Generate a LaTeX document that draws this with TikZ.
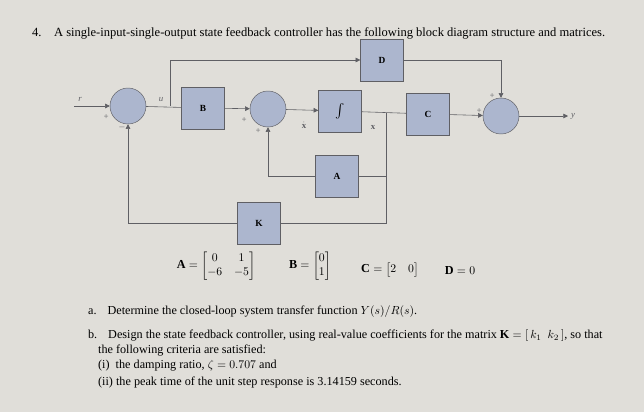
\documentclass[tikz,border=0pt]{standalone}
\usepackage{fontspec}
\usepackage{amsmath}
\setmainfont{Liberation Serif}
\usetikzlibrary{arrows.meta}
\definecolor{paper}{RGB}{224,222,217}
\definecolor{boxfill}{RGB}{172,182,206}
\definecolor{ln}{RGB}{95,95,100}
\begin{document}
\begin{tikzpicture}[x=0.03cm,y=-0.03cm,font=\fontsize{10.4}{12}\selectfont,
  blk/.style={draw=ln,fill=boxfill,minimum width=1.29cm,minimum height=1.26cm,inner sep=0pt,font=\fontsize{8}{9}\bfseries},
  sumc/.style={draw=ln,fill=boxfill,circle,minimum size=1.08cm,inner sep=0pt},
  wire/.style={draw=ln,line width=0.5pt},
  arr/.style={wire,-{Triangle[length=4pt,width=4pt]}},
  lab/.style={font=\fontsize{7.5}{8}\selectfont\itshape,text=ln}]
\fill[paper] (0,0) rectangle (644,412);
\node[anchor=west,font=\fontsize{10.7}{12}\selectfont] (title) at (28,33) {4.\hspace{1.0em}A single-input-single-output state feedback controller has the following block diagram structure and matrices.};
\node[sumc] (s1) at (128,106) {};
\node[blk] (B) at (203,108) {B};
\node[sumc] (s2) at (268,109) {};
\node[blk] (I) at (340,111) {\large$\int$};
\node[blk] (C) at (428,114) {C};
\node[sumc] (s3) at (501,116) {};
\node[blk] (D) at (382,60) {D};
\node[blk] (A) at (337,176) {A};
\node[blk] (K) at (259,223) {K};
\coordinate (rin) at (74,106);
\coordinate (yout) at (568,116);
\coordinate (ub) at (170,106);
\coordinate (xb) at (386,113);
\draw[arr] (rin) -- (s1);
\draw[wire] (s1) -- (B);
\draw[arr] (ub) |- (D);
\draw[arr] (B) -- (s2);
\draw[arr] (s2) -- (I);
\draw[wire] (I) -- (C);
\draw[arr] (C) -- (s3);
\draw[arr] (D.east) -| (s3);
\draw[arr] (s3) -- (yout);
\draw[wire] (xb) |- (K.east);
\draw[wire] (A.east) -- (A.east -| xb);
\draw[arr] (A.west) -| (s2);
\draw[arr] (K.west) -| (s1);
\node[lab] at (80,99) {r};
\node[lab] at (161,100) {u};
\node[lab] at (573,116) {y};
\node[lab,font=\fontsize{7.5}{8}\bfseries] at (304,125) {$\dot{\mathbf{x}}$};
\node[lab,font=\fontsize{7.5}{8}\bfseries] at (373,127) {x};
\node[lab] at (106,117) {+};
\node[lab] at (122,127) {$-$};
\node[lab] at (244,120) {+};
\node[lab] at (258,131) {+};
\node[lab] at (479,111) {+};
\node[lab] at (492,96) {+};
\node (mA) at (216,266) {$\mathbf{A}=\begin{bmatrix}0&1\\-6&-5\end{bmatrix}$};
\node (mB) at (310,266) {$\mathbf{B}=\begin{bmatrix}0\\1\end{bmatrix}$};
\node (mC) at (390,270) {$\mathbf{C}=\begin{bmatrix}2&0\end{bmatrix}$};
\node (mD) at (460,271) {$\mathbf{D}=0$};
\node[anchor=west] (qa) at (84,312) {a.\hspace{0.9em}Determine the closed-loop system transfer function $Y(s)/R(s)$.};
\node[anchor=west] (qb) at (84,336) {b.\hspace{0.9em}Design the state feedback controller, using real-value coefficients for the matrix $\mathbf{K}=[\,k_1\ \ k_2\,]$, so that};
\node[anchor=west] (qb2) at (94,351) {the following criteria are satisfied:};
\node[anchor=west] (qb3) at (94,366) {(i)\ \ the damping ratio, $\zeta=0.707$ and};
\node[anchor=west] (qb4) at (94,382) {(ii)\ the peak time of the unit step response is 3.14159 seconds.};
\end{tikzpicture}
\end{document}
